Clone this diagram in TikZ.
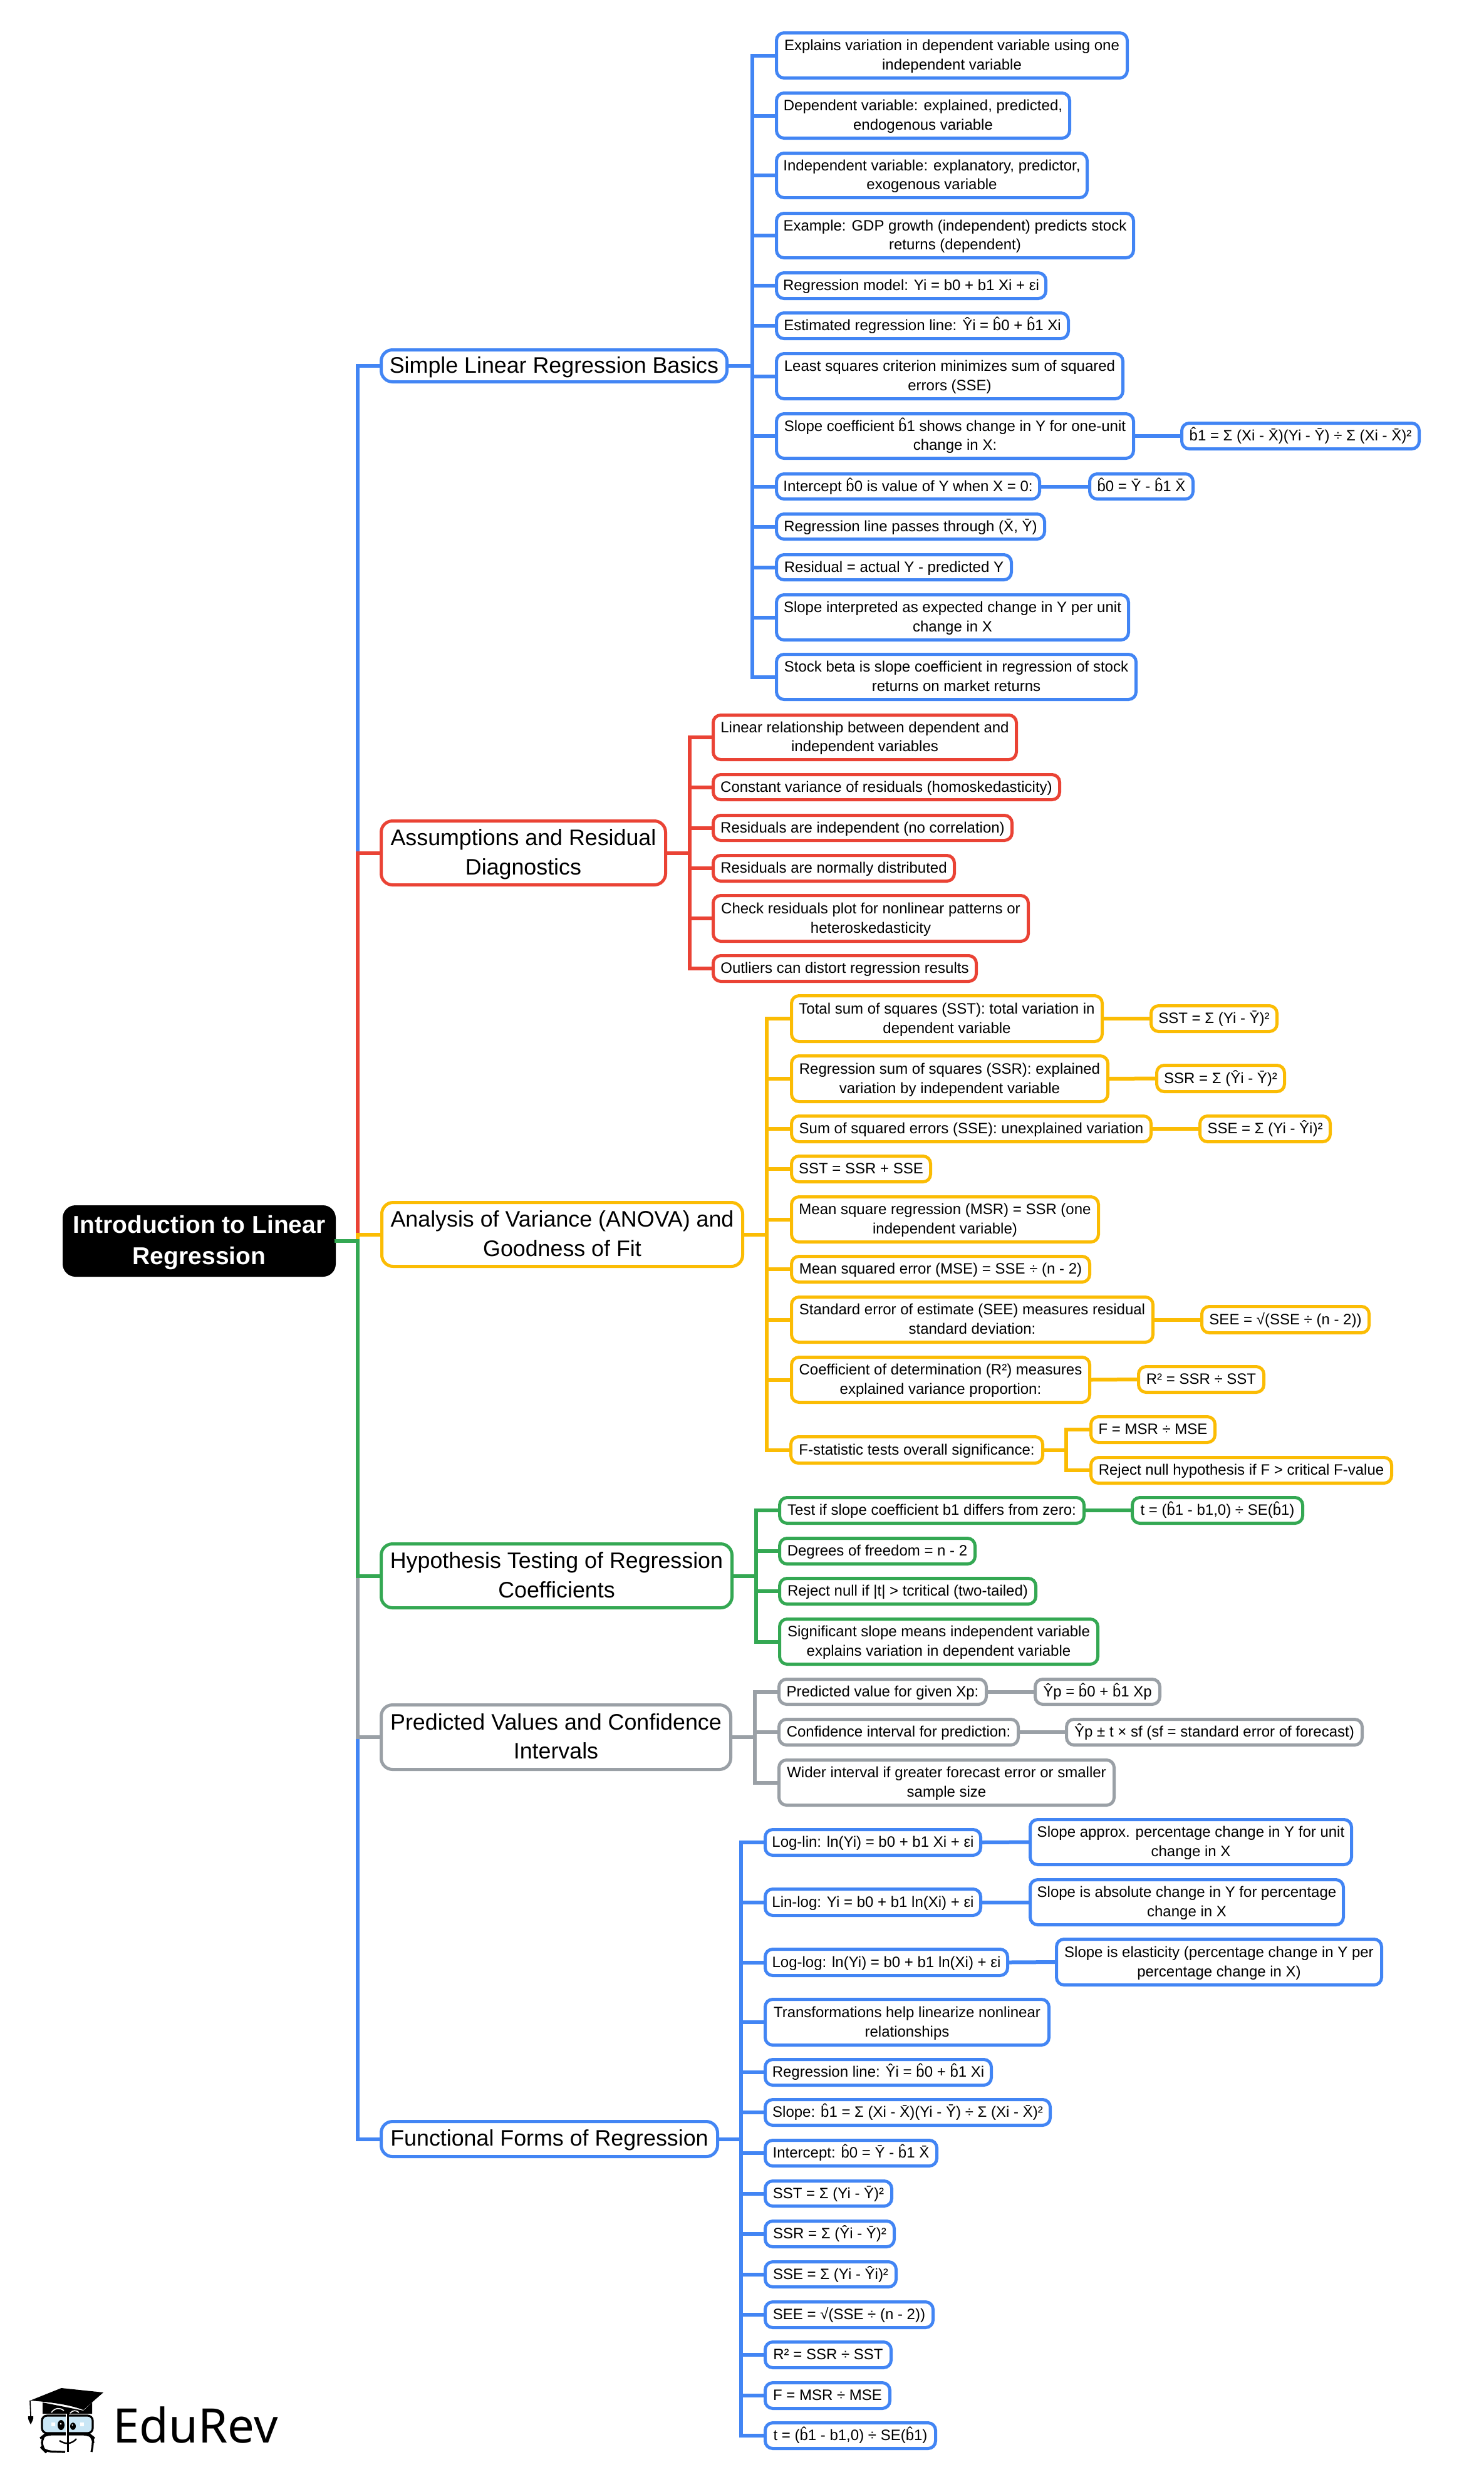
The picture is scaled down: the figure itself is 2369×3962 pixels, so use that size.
\documentclass[tikz,border=0pt]{standalone}
\usepackage{fontspec}
\setmainfont{Liberation Sans}
\newfontfamily\logofont{Noto Sans}
\definecolor{cblue}{HTML}{4285F4}
\definecolor{cred}{HTML}{EA4335}
\definecolor{cyellow}{HTML}{FBBC04}
\definecolor{cgreen}{HTML}{34A853}
\definecolor{cgray}{HTML}{9AA0A6}
\definecolor{clens}{HTML}{C9E6F5}
\newcommand{\bx}[7]{\node[#2,minimum width={(#5-#3-5)*0.5pt},minimum height={(#6-#4-5)*0.5pt}] (#1) at ({(#3+#5)/2},{(#4+#6)/2}) {\rule{0pt}{1em}#7\rule[-0.36em]{0pt}{0.36em}};}
\tikzset{
  box/.style={draw,fill=white,line width=2.5pt,inner sep=0pt,outer sep=0pt,align=center,text=black},
  leaf/.style={box,rounded corners=6pt,font=\fontsize{12}{15.3}\selectfont},
  head/.style={box,rounded corners=9pt,font=\fontsize{17.9}{23.4}\selectfont},
  rootbox/.style={box,draw=black,fill=black,text=white,rounded corners=9pt,font=\fontsize{19.5}{25}\selectfont\bfseries},
  lb/.style={leaf,draw=cblue},lr/.style={leaf,draw=cred},ly/.style={leaf,draw=cyellow},lg/.style={leaf,draw=cgreen},lk/.style={leaf,draw=cgray},
  hb/.style={head,draw=cblue},hr/.style={head,draw=cred},hy/.style={head,draw=cyellow},hg/.style={head,draw=cgreen},hk/.style={head,draw=cgray},
  conn/.style={line width=3pt},
  cb/.style={conn,draw=cblue},cr/.style={conn,draw=cred},cy/.style={conn,draw=cyellow},cg/.style={conn,draw=cgreen},ck/.style={conn,draw=cgray},
}
\begin{document}
\begin{tikzpicture}[x=0.5pt,y=-0.5pt]
\useasboundingbox (0,0) rectangle (2369,3962);
% root and heads
\bx{root}{rootbox}{100}{1924}{536}{2038}{Introduction to Linear\\Regression}
\bx{h1}{hb}{606}{556}{1163}{612}{Simple Linear Regression Basics}
\bx{h2}{hr}{606}{1308}{1065}{1415}{Assumptions and Residual\\Diagnostics}
\bx{h3}{hy}{607}{1917}{1188}{2024}{Analysis of Variance (ANOVA) and\\Goodness of Fit}
\bx{h4}{hg}{606}{2462}{1171}{2569}{Hypothesis Testing of Regression\\Coefficients}
\bx{h5}{hk}{606}{2719}{1169}{2827}{Predicted Values and Confidence\\Intervals}
\bx{h6}{hb}{606}{3384}{1148}{3445}{Functional Forms of Regression}
% simple
\bx{s1}{lb}{1237}{50}{1802}{127}{Explains variation in dependent variable using one\\independent variable}
\bx{s2}{lb}{1237}{146}{1710}{223}{Dependent variable: explained, predicted,\\endogenous variable}
\bx{s3}{lb}{1237}{242}{1738}{318}{Independent variable: explanatory, predictor,\\exogenous variable}
\bx{s4}{lb}{1237}{338}{1812}{414}{Example: GDP growth (independent) predicts stock\\returns (dependent)}
\bx{s5}{lb}{1237}{433}{1672}{479}{Regression model: Yi = b0 + b1 Xi + εi}
\bx{s6}{lb}{1237}{497}{1708}{543}{Estimated regression line: Ŷi = b̂0 + b̂1 Xi}
\bx{s7}{lb}{1237}{562}{1795}{639}{Least squares criterion minimizes sum of squared\\errors (SSE)}
\bx{s8}{lb}{1237}{658}{1812}{734}{Slope coefficient b̂1 shows change in Y for one-unit\\change in X:}
\bx{s8a}{lb}{1884}{673}{2268}{719}{b̂1 = Σ (Xi - X̄)(Yi - Ȳ) ÷ Σ (Xi - X̄)²}
\bx{s9}{lb}{1237}{754}{1662}{799}{Intercept b̂0 is value of Y when X = 0:}
\bx{s9a}{lb}{1737}{754}{1907}{799}{b̂0 = Ȳ - b̂1 X̄}
\bx{s10}{lb}{1237}{818}{1670}{863}{Regression line passes through (X̄, Ȳ)}
\bx{s11}{lb}{1237}{883}{1617}{928}{Residual = actual Y - predicted Y}
\bx{s12}{lb}{1237}{947}{1804}{1024}{Slope interpreted as expected change in Y per unit\\change in X}
\bx{s13}{lb}{1237}{1042}{1816}{1119}{Stock beta is slope coefficient in regression of stock\\returns on market returns}
% red
\bx{r1}{lr}{1136}{1139}{1625}{1215}{Linear relationship between dependent and\\independent variables}
\bx{r2}{lr}{1136}{1234}{1694}{1279}{Constant variance of residuals (homoskedasticity)}
\bx{r3}{lr}{1136}{1299}{1618}{1344}{Residuals are independent (no correlation)}
\bx{r4}{lr}{1136}{1363}{1526}{1409}{Residuals are normally distributed}
\bx{r5}{lr}{1136}{1427}{1644}{1505}{Check residuals plot for nonlinear patterns or\\heteroskedasticity}
\bx{r6}{lr}{1136}{1523}{1561}{1569}{Outliers can distort regression results}
% yellow
\bx{y1}{ly}{1261}{1587}{1762}{1665}{Total sum of squares (SST): total variation in\\dependent variable}
\bx{y1a}{ly}{1835}{1603}{2041}{1649}{SST = Σ (Yi - Ȳ)²}
\bx{y2}{ly}{1261}{1683}{1771}{1761}{Regression sum of squares (SSR): explained\\variation by independent variable}
\bx{y2a}{ly}{1844}{1698}{2053}{1745}{SSR = Σ (Ŷi - Ȳ)²}
\bx{y3}{ly}{1261}{1779}{1840}{1825}{Sum of squared errors (SSE): unexplained variation}
\bx{y3a}{ly}{1913}{1779}{2126}{1825}{SSE = Σ (Yi - Ŷi)²}
\bx{y4}{ly}{1261}{1843}{1488}{1889}{SST = SSR + SSE}
\bx{y5}{ly}{1261}{1908}{1756}{1985}{Mean square regression (MSR) = SSR (one\\independent variable)}
\bx{y6}{ly}{1261}{2003}{1742}{2049}{Mean squared error (MSE) = SSE ÷ (n - 2)}
\bx{y7}{ly}{1261}{2068}{1843}{2145}{Standard error of estimate (SEE) measures residual\\standard deviation:}
\bx{y7a}{ly}{1916}{2083}{2188}{2130}{SEE = √(SSE ÷ (n - 2))}
\bx{y8}{ly}{1261}{2164}{1742}{2241}{Coefficient of determination (R²) measures\\explained variance proportion:}
\bx{y8a}{ly}{1815}{2179}{2020}{2225}{R² = SSR ÷ SST}
\bx{y9}{ly}{1260}{2291}{1667}{2338}{F-statistic tests overall significance:}
\bx{y9a}{ly}{1739}{2259}{1942}{2305}{F = MSR ÷ MSE}
\bx{y9b}{ly}{1739}{2324}{2224}{2370}{Reject null hypothesis if F > critical F-value}
% green
\bx{g1}{lg}{1242}{2388}{1733}{2434}{Test if slope coefficient b1 differs from zero:}
\bx{g1a}{lg}{1805}{2388}{2082}{2434}{t = (b̂1 - b1,0) ÷ SE(b̂1)}
\bx{g2}{lg}{1242}{2453}{1559}{2499}{Degrees of freedom = n - 2}
\bx{g3}{lg}{1242}{2517}{1656}{2563}{Reject null if |t| > tcritical (two-tailed)}
\bx{g4}{lg}{1242}{2582}{1755}{2659}{Significant slope means independent variable\\explains variation in dependent variable}
% gray
\bx{p1}{lk}{1241}{2678}{1577}{2723}{Predicted value for given Xp:}
\bx{p1a}{lk}{1650}{2678}{1854}{2723}{Ŷp = b̂0 + b̂1 Xp}
\bx{p2}{lk}{1241}{2742}{1628}{2788}{Confidence interval for prediction:}
\bx{p2a}{lk}{1700}{2742}{2177}{2788}{Ŷp ± t × sf (sf = standard error of forecast)}
\bx{p3}{lk}{1241}{2807}{1781}{2884}{Wider interval if greater forecast error or smaller\\sample size}
% functional
\bx{f1}{lb}{1219}{2918}{1568}{2964}{Log-lin: ln(Yi) = b0 + b1 Xi + εi}
\bx{f1a}{lb}{1642}{2902}{2160}{2979}{Slope approx. percentage change in Y for unit\\change in X}
\bx{f2}{lb}{1219}{3013}{1568}{3060}{Lin-log: Yi = b0 + b1 ln(Xi) + εi}
\bx{f2a}{lb}{1642}{2998}{2147}{3075}{Slope is absolute change in Y for percentage\\change in X}
\bx{f3}{lb}{1219}{3109}{1611}{3156}{Log-log: ln(Yi) = b0 + b1 ln(Xi) + εi}
\bx{f3a}{lb}{1684}{3093}{2208}{3171}{Slope is elasticity (percentage change in Y per\\percentage change in X)}
\bx{f4}{lb}{1219}{3189}{1677}{3267}{Transformations help linearize nonlinear\\relationships}
\bx{f5}{lb}{1219}{3285}{1585}{3331}{Regression line: Ŷi = b̂0 + b̂1 Xi}
\bx{f6}{lb}{1219}{3349}{1679}{3395}{Slope: b̂1 = Σ (Xi - X̄)(Yi - Ȳ) ÷ Σ (Xi - X̄)²}
\bx{f7}{lb}{1219}{3414}{1498}{3460}{Intercept: b̂0 = Ȳ - b̂1 X̄}
\bx{f8}{lb}{1219}{3479}{1426}{3524}{SST = Σ (Yi - Ȳ)²}
\bx{f9}{lb}{1219}{3543}{1430}{3589}{SSR = Σ (Ŷi - Ȳ)²}
\bx{f10}{lb}{1219}{3608}{1433}{3653}{SSE = Σ (Yi - Ŷi)²}
\bx{f11}{lb}{1219}{3672}{1492}{3718}{SEE = √(SSE ÷ (n - 2))}
\bx{f12}{lb}{1219}{3736}{1425}{3782}{R² = SSR ÷ SST}
\bx{f13}{lb}{1219}{3801}{1423}{3847}{F = MSR ÷ MSE}
\bx{f14}{lb}{1219}{3865}{1496}{3911}{t = (b̂1 - b1,0) ÷ SE(b̂1)}
% junctions
\coordinate (jroot) at (570.5,1981);
\coordinate (j1) at (1201,584);
\coordinate (j2) at (1101,1361.5);
\coordinate (j3) at (1224,1970.5);
\coordinate (j3b) at (1702,2314.5);
\coordinate (j4) at (1206.5,2515.5);
\coordinate (j5) at (1205,2773);
\coordinate (j6) at (1182.5,3414.5);
% main trunk
\draw[cb] (root.east) -- (jroot) |- (h1.west);
\draw[cr] (root.east) -- (jroot) |- (h2.west);
\draw[cy] (root.east) -- (jroot) |- (h3.west);
\draw[cb] (root.east) -- (jroot) |- (h6.west);
\draw[ck] (root.east) -- (jroot) |- (h5.west);
\draw[cg] (root.east) -- (jroot) |- (h4.west);
% branches
\draw[cb] (h1.east) -- (j1);
\foreach \c in {s1,s2,s3,s4,s5,s6,s7,s8,s9,s10,s11,s12,s13} \draw[cb] (j1) |- (\c.west);
\draw[cb] (s8.east) -- (s8a.west);
\draw[cb] (s9.east) -- (s9a.west);
\draw[cr] (h2.east) -- (j2);
\foreach \c in {r1,r2,r3,r4,r5,r6} \draw[cr] (j2) |- (\c.west);
\draw[cy] (h3.east) -- (j3);
\foreach \c in {y1,y2,y3,y4,y5,y6,y7,y8,y9} \draw[cy] (j3) |- (\c.west);
\draw[cy] (y1.east) -- (y1a.west);
\draw[cy] (y2.east) -- (y2a.west);
\draw[cy] (y3.east) -- (y3a.west);
\draw[cy] (y7.east) -- (y7a.west);
\draw[cy] (y8.east) -- (y8a.west);
\draw[cy] (y9.east) -- (j3b);
\draw[cy] (j3b) |- (y9a.west);
\draw[cy] (j3b) |- (y9b.west);
\draw[cg] (h4.east) -- (j4);
\foreach \c in {g1,g2,g3,g4} \draw[cg] (j4) |- (\c.west);
\draw[cg] (g1.east) -- (g1a.west);
\draw[ck] (h5.east) -- (j5);
\foreach \c in {p1,p2,p3} \draw[ck] (j5) |- (\c.west);
\draw[ck] (p1.east) -- (p1a.west);
\draw[ck] (p2.east) -- (p2a.west);
\draw[cb] (h6.east) -- (j6);
\foreach \c in {f1,f2,f3,f4,f5,f6,f7,f8,f9,f10,f11,f12,f13,f14} \draw[cb] (j6) |- (\c.west);
\draw[cb] (f1.east) -- (f1a.west);
\draw[cb] (f2.east) -- (f2a.west);
\draw[cb] (f3.east) -- (f3a.west);
% logo
\fill[black] (68,3835) -- (68,3853) -- (147,3853) -- (147,3835) -- (133,3848) -- cycle;
\fill[black] (48,3832) -- (98,3812) -- (165,3819) -- (133,3847) .. controls (115,3840) and (90,3835) .. (48,3832) -- cycle;
\draw[white,line width=0.8pt] (82,3851) .. controls (88,3843) and (96,3843) .. (102,3848);
\draw[white,line width=0.8pt] (112,3852) .. controls (116,3847) and (122,3847) .. (126,3851);
\draw[black,line width=0.8pt] (48,3832) -- (49,3857);
\fill[black] (45,3857) -- (53,3857) .. controls (54,3862) and (51,3866) .. (49,3870) .. controls (47,3866) and (44,3862) .. (45,3857) -- cycle;
\draw[black,fill=clens,line width=1.6pt,rounded corners=4pt] (67,3856) rectangle (148,3884);
\draw[black,line width=1.6pt,rounded corners=5pt] (104,3914) -- (72,3913) -- (67,3908) -- (67,3890) -- (72,3886) -- (143,3886) -- (148,3890) -- (149,3900) -- (146,3914);
\draw[black,line width=1.6pt] (108.5,3853) -- (108.5,3914);
\draw[white,line width=1pt] (106,3853) -- (106,3888);
\fill[black] (97.5,3871) ellipse [x radius=5.5,y radius=8];
\fill[black] (116.5,3873) ellipse [x radius=4.5,y radius=6];
\fill[white] (97,3869) circle [radius=1.5];
\fill[white] (115.5,3871) circle [radius=1.2];
\fill[white] (82,3867) rectangle (88,3873);
\fill[white] (128,3867) rectangle (134,3873);
\draw[black,line width=1.2pt] (95,3896) .. controls (104,3902) and (114,3902) .. (122,3893);
\node[anchor=base west,inner sep=0pt,font=\logofont\fontsize{38}{38}\selectfont\bfseries,text=black] (logo) at (180,3899) {EduRev};
\end{tikzpicture}
\end{document}
